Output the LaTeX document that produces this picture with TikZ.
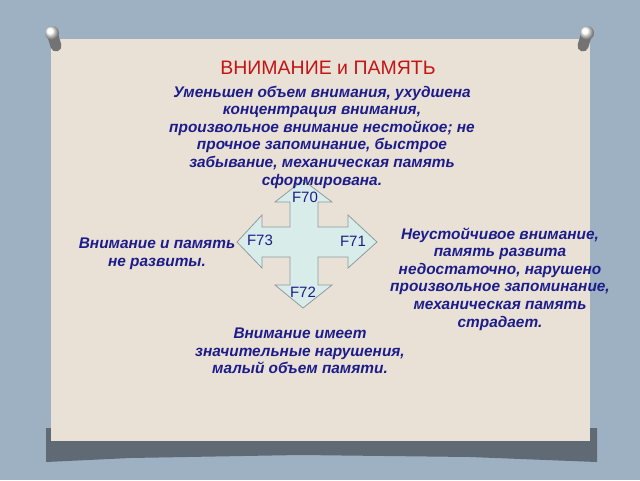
\documentclass[tikz,border=0pt]{standalone}
\usepackage{fontspec}
\setmainfont{Liberation Sans}
\definecolor{wall}{HTML}{9EB1C2}
\definecolor{paper}{HTML}{E9E1D6}
\definecolor{ink}{HTML}{1C1C8A}
\definecolor{titlered}{HTML}{C41414}
\definecolor{crossfill}{HTML}{D8ECEA}
\definecolor{crossline}{HTML}{8E9C9E}

\begin{document}
\begin{tikzpicture}[x=1pt, y=-1pt,
	note/.style={align=center, text=ink, font=\fontsize{15.4}{17.6}\selectfont\bfseries\itshape, inner sep=0pt},
	flabel/.style={text=ink, font=\fontsize{15}{16}\selectfont, inner sep=0pt}]
	%\draw[help lines] (0,0) grid[step=20] (640,480);
	\useasboundingbox (0,0) rectangle (640,480);
	\fill[wall] (0,0) rectangle (640,480);
	% shadow and paper
	\fill[black!40!wall] (46,428) -- (597,428) -- (597,462) -- (470,457) -- (300,455) -- (130,458) -- (46,462) -- cycle;
	\fill[paper] (51,39) rectangle (590,441);
	% pins
	\draw[line width=11, black!55, line cap=round] (53,36) -- (56,46);
	\shade[ball color=white] (52,33) circle (7);
	\draw[line width=11, black!55, line cap=round] (586,36) -- (583,46);
	\shade[ball color=white] (587,33) circle (7);
	% cross of arrows
	\draw[fill=crossfill, draw=crossline, line width=0.8] (303,180) -- (332,202) -- (318,202) -- (318,227) -- (348,227) -- (348,215)
		-- (377,242) -- (348,268) -- (348,257) -- (318,257) -- (318,285) -- (332,285) -- (303,308) -- (275,285)
		-- (290,285) -- (290,257) -- (262,257) -- (262,268) -- (237,242) -- (262,215) -- (262,227) -- (290,227)
		-- (290,202) -- (275,202) -- cycle;
	\node[flabel] (f70) at (305,197) {F70};
	\node[flabel] (f71) at (353,241) {F71};
	\node[flabel] (f72) at (303,292) {F72};
	\node[flabel] (f73) at (260,240) {F73};
	% texts
	\node[text=titlered, font=\fontsize{19.5}{20}\selectfont] (title) at (328,68) {ВНИМАНИЕ и ПАМЯТЬ};
	\node[note] (top) at (322,137) {Уменьшен объем внимания, ухудшена\\ концентрация внимания,\\ произвольное внимание нестойкое; не\\ прочное запоминание, быстрое\\ забывание, механическая память\\ сформирована.};
	\node[note] (right) at (500,279) {Неустойчивое внимание,\\ память развита\\ недостаточно, нарушено\\ произвольное запоминание,\\ механическая память\\ страдает.};
	\node[note] (left) at (157,254) {Внимание и память\\ не развиты.};
	\node[note] (bottom) at (300,351) {Внимание имеет\\ значительные нарушения,\\ малый объем памяти.};
\end{tikzpicture}
\end{document}
